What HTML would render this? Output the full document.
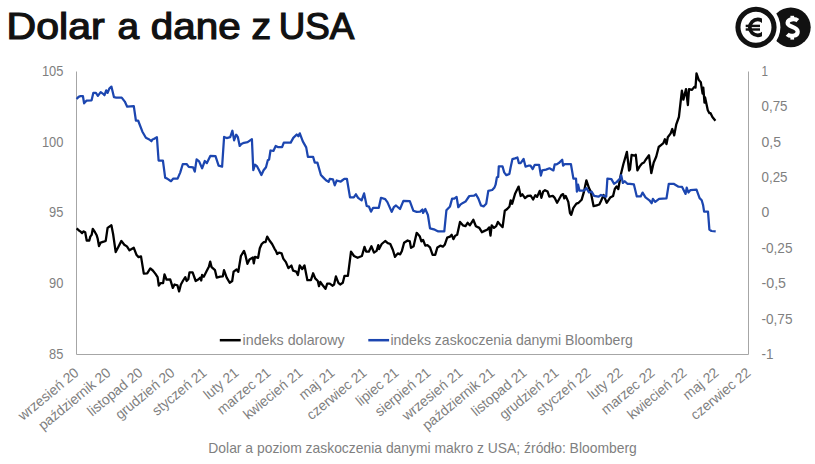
<!DOCTYPE html>
<html><head><meta charset="utf-8"><style>
html,body{margin:0;padding:0;background:#fff;width:815px;height:464px;overflow:hidden}
svg{display:block;font-family:"Liberation Sans",sans-serif}
</style></head><body>
<svg width="815" height="464" viewBox="0 0 815 464">
<text x="6.60" y="38.6" font-size="36" fill="#111" stroke="#111" stroke-width="1.2" textLength="98.00" lengthAdjust="spacingAndGlyphs">Dolar</text>
<text x="117.40" y="38.6" font-size="36" fill="#111" stroke="#111" stroke-width="1.2" textLength="21.60" lengthAdjust="spacingAndGlyphs">a</text>
<text x="150.80" y="38.6" font-size="36" fill="#111" stroke="#111" stroke-width="1.2" textLength="89.80" lengthAdjust="spacingAndGlyphs">dane</text>
<text x="251.60" y="38.6" font-size="36" fill="#111" stroke="#111" stroke-width="1.2" textLength="19.60" lengthAdjust="spacingAndGlyphs">z</text>
<text x="278.80" y="38.6" font-size="36" fill="#111" stroke="#111" stroke-width="1.2" textLength="75.60" lengthAdjust="spacingAndGlyphs">USA</text>
<path d="M76.5,71.5 V354.5 H748.5 V71.5" fill="none" stroke="#a6a6a6" stroke-width="1"/>
<text x="41.9" y="76.1" font-size="14.2" fill="#7f7f7f" textLength="21.5" lengthAdjust="spacingAndGlyphs">105</text>
<text x="41.9" y="146.8" font-size="14.2" fill="#7f7f7f" textLength="21.5" lengthAdjust="spacingAndGlyphs">100</text>
<text x="49.1" y="217.4" font-size="14.2" fill="#7f7f7f" textLength="14.3" lengthAdjust="spacingAndGlyphs">95</text>
<text x="49.1" y="288.1" font-size="14.2" fill="#7f7f7f" textLength="14.3" lengthAdjust="spacingAndGlyphs">90</text>
<text x="49.1" y="358.8" font-size="14.2" fill="#7f7f7f" textLength="14.3" lengthAdjust="spacingAndGlyphs">85</text>
<text x="761.5" y="76.1" font-size="14.2" fill="#7f7f7f" textLength="6.5" lengthAdjust="spacingAndGlyphs">1</text>
<text x="761.5" y="111.4" font-size="14.2" fill="#7f7f7f" textLength="26" lengthAdjust="spacingAndGlyphs">0,75</text>
<text x="761.5" y="146.8" font-size="14.2" fill="#7f7f7f" textLength="19.5" lengthAdjust="spacingAndGlyphs">0,5</text>
<text x="761.5" y="182.1" font-size="14.2" fill="#7f7f7f" textLength="26" lengthAdjust="spacingAndGlyphs">0,25</text>
<text x="761.5" y="217.4" font-size="14.2" fill="#7f7f7f" textLength="7.8" lengthAdjust="spacingAndGlyphs">0</text>
<text x="761.5" y="252.8" font-size="14.2" fill="#7f7f7f" textLength="31" lengthAdjust="spacingAndGlyphs">-0,25</text>
<text x="761.5" y="288.1" font-size="14.2" fill="#7f7f7f" textLength="24.5" lengthAdjust="spacingAndGlyphs">-0,5</text>
<text x="761.5" y="323.5" font-size="14.2" fill="#7f7f7f" textLength="31" lengthAdjust="spacingAndGlyphs">-0,75</text>
<text x="761.5" y="358.8" font-size="14.2" fill="#7f7f7f" textLength="12" lengthAdjust="spacingAndGlyphs">-1</text>
<text transform="translate(79.7,374.3) rotate(-39.5)" font-size="14.2" fill="#7f7f7f" text-anchor="end" textLength="73.4" lengthAdjust="spacingAndGlyphs">wrzesień 20</text>
<text transform="translate(111.7,374.3) rotate(-39.5)" font-size="14.2" fill="#7f7f7f" text-anchor="end" textLength="88.8" lengthAdjust="spacingAndGlyphs">październik 20</text>
<text transform="translate(143.7,374.3) rotate(-39.5)" font-size="14.2" fill="#7f7f7f" text-anchor="end" textLength="66.6" lengthAdjust="spacingAndGlyphs">listopad 20</text>
<text transform="translate(175.7,374.3) rotate(-39.5)" font-size="14.2" fill="#7f7f7f" text-anchor="end" textLength="72.0" lengthAdjust="spacingAndGlyphs">grudzień 20</text>
<text transform="translate(207.7,374.3) rotate(-39.5)" font-size="14.2" fill="#7f7f7f" text-anchor="end" textLength="65.8" lengthAdjust="spacingAndGlyphs">styczeń 21</text>
<text transform="translate(239.7,374.3) rotate(-39.5)" font-size="14.2" fill="#7f7f7f" text-anchor="end" textLength="40.6" lengthAdjust="spacingAndGlyphs">luty 21</text>
<text transform="translate(271.7,374.3) rotate(-39.5)" font-size="14.2" fill="#7f7f7f" text-anchor="end" textLength="64.3" lengthAdjust="spacingAndGlyphs">marzec 21</text>
<text transform="translate(303.7,374.3) rotate(-39.5)" font-size="14.2" fill="#7f7f7f" text-anchor="end" textLength="71.9" lengthAdjust="spacingAndGlyphs">kwiecień 21</text>
<text transform="translate(335.7,374.3) rotate(-39.5)" font-size="14.2" fill="#7f7f7f" text-anchor="end" textLength="41.3" lengthAdjust="spacingAndGlyphs">maj 21</text>
<text transform="translate(367.7,374.3) rotate(-39.5)" font-size="14.2" fill="#7f7f7f" text-anchor="end" textLength="72.7" lengthAdjust="spacingAndGlyphs">czerwiec 21</text>
<text transform="translate(399.7,374.3) rotate(-39.5)" font-size="14.2" fill="#7f7f7f" text-anchor="end" textLength="50.5" lengthAdjust="spacingAndGlyphs">lipiec 21</text>
<text transform="translate(431.7,374.3) rotate(-39.5)" font-size="14.2" fill="#7f7f7f" text-anchor="end" textLength="67.3" lengthAdjust="spacingAndGlyphs">sierpień 21</text>
<text transform="translate(463.7,374.3) rotate(-39.5)" font-size="14.2" fill="#7f7f7f" text-anchor="end" textLength="73.4" lengthAdjust="spacingAndGlyphs">wrzesień 21</text>
<text transform="translate(495.7,374.3) rotate(-39.5)" font-size="14.2" fill="#7f7f7f" text-anchor="end" textLength="88.8" lengthAdjust="spacingAndGlyphs">październik 21</text>
<text transform="translate(527.7,374.3) rotate(-39.5)" font-size="14.2" fill="#7f7f7f" text-anchor="end" textLength="66.6" lengthAdjust="spacingAndGlyphs">listopad 21</text>
<text transform="translate(559.7,374.3) rotate(-39.5)" font-size="14.2" fill="#7f7f7f" text-anchor="end" textLength="72.0" lengthAdjust="spacingAndGlyphs">grudzień 21</text>
<text transform="translate(591.7,374.3) rotate(-39.5)" font-size="14.2" fill="#7f7f7f" text-anchor="end" textLength="65.8" lengthAdjust="spacingAndGlyphs">styczeń 22</text>
<text transform="translate(623.7,374.3) rotate(-39.5)" font-size="14.2" fill="#7f7f7f" text-anchor="end" textLength="40.6" lengthAdjust="spacingAndGlyphs">luty 22</text>
<text transform="translate(655.7,374.3) rotate(-39.5)" font-size="14.2" fill="#7f7f7f" text-anchor="end" textLength="64.3" lengthAdjust="spacingAndGlyphs">marzec 22</text>
<text transform="translate(687.7,374.3) rotate(-39.5)" font-size="14.2" fill="#7f7f7f" text-anchor="end" textLength="71.9" lengthAdjust="spacingAndGlyphs">kwiecień 22</text>
<text transform="translate(719.7,374.3) rotate(-39.5)" font-size="14.2" fill="#7f7f7f" text-anchor="end" textLength="41.3" lengthAdjust="spacingAndGlyphs">maj 22</text>
<text transform="translate(751.7,374.3) rotate(-39.5)" font-size="14.2" fill="#7f7f7f" text-anchor="end" textLength="72.7" lengthAdjust="spacingAndGlyphs">czerwiec 22</text>
<line x1="219.8" y1="340.2" x2="240.7" y2="340.2" stroke="#000" stroke-width="2.5"/>
<text x="242.6" y="344.6" font-size="14.2" fill="#7f7f7f" textLength="102" lengthAdjust="spacingAndGlyphs">indeks dolarowy</text>
<line x1="368.3" y1="340.2" x2="389.1" y2="340.2" stroke="#1c46b0" stroke-width="2.5"/>
<text x="390.4" y="344.6" font-size="14.2" fill="#7f7f7f" textLength="242.5" lengthAdjust="spacingAndGlyphs">indeks zaskoczenia danymi Bloomberg</text>
<text x="208.3" y="453" font-size="15" fill="#7f7f7f" textLength="428.5" lengthAdjust="spacingAndGlyphs">Dolar a poziom zaskoczenia danymi makro z USA; źródło: Bloomberg</text>
<path d="M76.6,228.4 L78.6,230.2 L80.3,231.4 L82.1,233.1 L83.4,231.4 L85.2,232.2 L86.7,240.5 L89.3,240.5 L90.3,236.6 L91.7,234.8 L92.8,228.8 L95.0,232.2 L96.7,235.3 L97.6,238.3 L99.0,246.0 L100.7,242.6 L103.6,241.7 L105.7,240.9 L107.6,227.9 L111.4,225.3 L113.1,234.0 L115.7,252.1 L118.3,246.9 L121.4,240.9 L124.3,244.7 L126.9,246.4 L129.5,250.3 L133.8,247.8 L136.4,254.7 L138.6,257.2 L141.0,256.4 L143.8,273.6 L147.2,273.3 L150.3,268.4 L152.8,270.5 L155.3,273.6 L157.6,277.1 L158.8,285.7 L160.5,283.1 L163.1,283.1 L164.5,274.5 L166.6,279.7 L170.2,279.3 L172.8,287.9 L174.5,284.5 L177.4,285.3 L179.1,291.4 L180.9,284.5 L183.1,280.5 L185.3,277.1 L186.6,281.0 L188.3,279.3 L189.5,272.4 L192.6,272.4 L195.7,281.0 L198.6,279.3 L200.3,277.6 L201.2,280.5 L202.1,275.0 L203.8,276.7 L206.4,271.6 L209.0,266.4 L210.2,261.6 L211.6,267.2 L215.0,270.2 L216.7,277.6 L220.2,276.7 L222.8,276.4 L224.0,270.2 L226.7,277.6 L229.7,282.8 L232.2,281.0 L233.6,271.6 L236.6,269.5 L238.3,271.9 L240.9,256.0 L244.0,250.9 L245.2,254.3 L247.4,263.8 L249.5,259.5 L252.9,257.4 L253.8,263.3 L255.0,256.9 L258.1,257.8 L259.8,248.3 L261.7,244.0 L263.8,242.2 L265.5,242.2 L267.2,236.7 L269.5,240.5 L272.1,244.0 L274.7,249.1 L275.9,250.9 L277.2,254.0 L279.0,252.6 L281.6,253.4 L283.3,258.6 L285.9,262.1 L288.4,268.1 L291.4,265.5 L293.1,270.7 L296.2,271.6 L297.9,275.0 L299.7,265.5 L302.2,269.0 L304.5,265.5 L307.4,280.2 L310.9,280.2 L313.1,273.3 L315.2,278.4 L317.8,281.0 L319.0,286.2 L320.3,281.9 L322.1,284.5 L325.5,288.8 L327.2,283.6 L329.8,283.6 L332.4,285.7 L334.1,284.5 L335.9,276.4 L338.4,282.8 L340.2,284.5 L342.8,282.8 L344.5,275.9 L347.9,275.9 L351.0,251.7 L354.0,256.0 L357.6,257.8 L361.9,256.0 L364.5,246.9 L366.2,251.7 L368.8,251.7 L371.4,246.2 L374.0,252.6 L376.6,250.9 L378.3,245.2 L379.1,249.1 L381.7,244.0 L385.2,241.0 L387.8,243.1 L390.3,244.0 L392.9,250.0 L395.0,256.9 L397.8,253.4 L400.2,254.3 L401.9,250.9 L404.1,242.8 L407.6,240.5 L409.8,241.4 L411.0,247.9 L413.6,246.2 L416.7,232.8 L419.7,236.2 L421.4,241.4 L423.1,240.0 L425.3,245.7 L427.4,245.2 L430.0,247.4 L432.6,254.8 L435.2,254.8 L437.4,247.4 L440.3,245.7 L442.9,246.6 L444.7,244.8 L447.2,237.6 L450.0,236.6 L451.7,234.8 L453.4,239.1 L455.2,235.7 L457.2,234.8 L460.0,221.9 L462.9,225.3 L465.5,226.2 L467.6,222.8 L469.8,225.3 L473.3,219.8 L475.9,226.2 L479.3,227.9 L481.9,232.2 L484.5,230.9 L487.1,229.7 L489.3,227.4 L490.5,235.7 L491.7,225.3 L494.0,227.9 L496.2,226.2 L497.9,221.9 L500.0,224.5 L502.6,227.1 L504.8,210.7 L507.2,209.0 L509.5,206.4 L510.7,200.3 L512.1,203.8 L515.2,193.4 L518.6,186.6 L520.7,196.0 L522.4,194.3 L525.0,198.1 L527.6,196.0 L530.7,195.7 L533.1,199.5 L535.3,195.2 L537.1,196.9 L539.7,190.9 L541.4,197.8 L543.1,191.7 L545.0,190.2 L547.6,191.6 L549.3,196.7 L552.8,195.9 L554.5,197.6 L557.1,202.8 L558.8,199.8 L561.4,195.0 L563.1,194.1 L564.3,198.4 L565.7,195.9 L568.3,201.9 L570.0,213.1 L571.2,214.8 L573.4,207.9 L576.4,203.6 L578.6,202.8 L581.6,199.8 L583.8,192.4 L586.4,180.3 L589.0,188.1 L590.7,191.6 L592.4,200.2 L593.6,206.2 L596.7,205.3 L599.3,204.5 L601.0,201.0 L603.6,195.0 L606.7,202.8 L610.2,197.6 L613.1,195.9 L614.8,189.0 L616.6,186.4 L618.3,189.0 L620.9,174.3 L623.4,164.0 L625.2,157.9 L626.9,151.9 L629.1,170.5 L630.0,169.3 L631.6,154.8 L634.3,155.7 L635.8,154.8 L637.4,170.3 L639.7,166.4 L642.0,163.5 L644.0,162.5 L645.5,160.0 L649.0,155.3 L651.3,173.2 L653.7,162.5 L656.2,156.7 L658.7,147.0 L661.0,145.1 L663.4,143.1 L664.9,139.2 L666.5,144.1 L667.8,137.3 L670.7,133.4 L672.3,129.0 L674.2,135.4 L676.2,124.7 L678.9,117.0 L681.9,90.6 L683.4,99.7 L686.0,89.1 L687.9,105.0 L689.0,89.1 L692.0,89.9 L694.3,86.9 L695.5,87.6 L696.5,73.3 L698.8,80.1 L700.8,82.3 L702.6,93.6 L703.3,87.6 L704.5,102.7 L705.1,97.4 L707.8,110.2 L709.4,113.2 L710.6,113.2 L712.4,117.0 L715.4,120.8" fill="none" stroke="#000" stroke-width="2.3" stroke-linejoin="round"/>
<path d="M76.6,99.0 L78.6,96.9 L80.7,96.0 L82.9,96.0 L84.1,103.3 L86.4,100.7 L91.6,100.3 L93.3,92.9 L95.9,92.9 L97.9,95.9 L100.7,92.1 L103.1,93.8 L104.5,95.2 L106.2,90.3 L107.6,92.9 L109.3,88.6 L111.4,86.6 L114.0,97.2 L116.2,97.6 L121.7,97.6 L124.8,101.6 L127.2,106.7 L133.8,106.2 L135.9,120.5 L138.1,120.5 L142.4,131.7 L145.9,137.8 L149.3,139.5 L151.4,141.2 L152.4,139.5 L153.8,139.0 L156.9,137.2 L158.6,160.5 L162.9,160.5 L165.2,177.8 L167.2,178.6 L171.0,181.2 L173.3,178.6 L177.6,178.6 L180.2,172.6 L182.8,164.0 L186.6,164.0 L188.8,166.9 L193.1,167.4 L194.8,171.7 L196.6,159.3 L199.1,161.4 L202.1,168.3 L204.8,161.0 L206.9,163.1 L210.3,155.9 L215.5,156.2 L218.6,165.7 L222.1,166.6 L224.1,136.9 L226.7,138.1 L230.2,137.2 L232.4,130.7 L234.1,140.3 L236.2,134.7 L237.9,137.2 L239.7,145.9 L241.4,144.1 L244.0,142.8 L247.6,142.2 L251.9,139.1 L253.3,170.2 L255.0,164.7 L257.1,166.4 L259.1,170.2 L261.4,175.0 L263.6,170.2 L266.0,167.2 L267.8,160.3 L269.1,159.5 L270.5,150.5 L273.4,150.9 L275.7,146.0 L277.8,147.1 L282.1,147.1 L283.8,142.6 L290.7,142.6 L293.3,137.9 L296.7,134.5 L298.4,136.2 L299.8,133.3 L302.8,141.4 L306.2,147.4 L307.9,156.9 L313.1,156.9 L314.8,162.6 L317.4,162.6 L320.9,175.0 L323.4,177.6 L326.0,180.2 L328.6,181.9 L329.8,178.8 L332.9,179.3 L334.7,185.3 L336.7,180.5 L340.7,181.6 L342.1,180.5 L344.3,178.8 L346.9,178.8 L350.0,197.4 L353.8,197.4 L355.9,194.3 L358.1,197.8 L361.6,200.3 L364.1,193.4 L366.7,206.0 L369.0,206.7 L371.0,211.6 L373.1,207.8 L378.8,207.8 L381.0,197.8 L385.2,199.1 L387.4,202.1 L391.7,211.9 L393.8,207.2 L396.0,205.5 L400.0,209.0 L403.4,200.9 L409.8,201.2 L413.3,210.7 L416.7,211.9 L420.2,211.6 L422.4,209.5 L423.1,212.9 L425.3,209.0 L427.9,215.0 L430.0,228.4 L434.8,229.7 L438.3,231.4 L444.3,231.4 L446.4,210.3 L450.0,206.4 L452.1,198.6 L454.3,198.6 L456.6,196.9 L458.3,207.2 L460.3,204.7 L462.9,202.9 L465.5,201.6 L469.3,196.0 L474.1,195.7 L475.9,194.3 L478.4,198.6 L481.0,205.5 L483.6,206.4 L486.2,203.8 L488.3,190.9 L492.2,190.0 L494.5,187.4 L495.6,184.7 L496.9,177.3 L498.2,176.9 L498.8,166.4 L502.5,166.4 L504.2,172.4 L506.4,175.2 L509.4,173.9 L510.7,167.0 L512.4,159.2 L515.0,158.4 L517.4,157.5 L518.9,163.1 L520.6,163.1 L523.6,159.0 L525.5,166.6 L528.4,165.7 L530.5,165.7 L532.7,169.1 L534.8,164.8 L539.1,164.8 L540.9,175.6 L542.2,170.4 L546.0,169.6 L549.5,168.3 L553.4,170.4 L554.7,164.4 L556.4,164.4 L558.8,163.1 L562.2,159.7 L563.1,165.7 L564.8,164.0 L570.9,164.0 L573.4,178.6 L576.0,178.6 L576.9,191.6 L578.1,184.7 L579.5,190.7 L583.8,190.7 L586.4,188.1 L589.0,192.4 L591.6,191.6 L594.1,195.9 L598.4,196.7 L601.0,195.0 L603.6,195.9 L606.2,196.7 L607.4,178.6 L611.4,179.1 L614.0,183.8 L616.6,182.1 L620.0,178.6 L621.2,175.2 L622.9,182.9 L624.7,181.2 L627.4,183.8 L630.0,183.8 L633.9,184.4 L636.8,196.4 L640.7,196.4 L642.6,192.6 L645.5,197.4 L649.4,200.3 L651.7,203.2 L652.9,198.8 L655.2,201.9 L659.1,198.8 L666.5,198.4 L668.8,183.8 L673.6,183.8 L678.5,186.7 L682.1,186.9 L685.6,193.9 L686.7,187.6 L688.4,192.5 L690.5,190.1 L696.5,189.7 L699.6,198.1 L701.7,200.2 L703.1,205.1 L704.1,211.7 L708.0,211.7 L709.4,229.6 L711.5,231.0 L715.7,231.4" fill="none" stroke="#1c46b0" stroke-width="2.25" stroke-linejoin="round"/>
<defs><clipPath id="ec"><rect x="740" y="10" width="21.9" height="40"/></clipPath></defs>
<g>
<circle cx="790.8" cy="27.3" r="19.9" fill="#111"/>
<circle cx="756" cy="27.3" r="24.4" fill="#fff"/>
<circle cx="756" cy="27.3" r="18.05" fill="none" stroke="#111" stroke-width="5.1"/>
<circle cx="757.8" cy="27.4" r="7.95" fill="none" stroke="#111" stroke-width="3.7" clip-path="url(#ec)"/>
<rect x="745.7" y="24.7" width="14.3" height="2.4" fill="#111"/>
<rect x="745.7" y="28.3" width="14.3" height="2.4" fill="#111"/>
<rect x="790.4" y="15.8" width="3.7" height="4" fill="#fff"/>
<rect x="790.4" y="34" width="3.7" height="5.6" fill="#fff"/>
<path d="M797.8,20.6 C795.5,18.6 788,18.4 787.6,22.9 C787.3,27.2 797.6,26.3 797.7,31.7 C797.8,36.8 789.5,36.6 787.2,34.2" fill="none" stroke="#fff" stroke-width="4.2"/>
</g>
</svg></body></html>
